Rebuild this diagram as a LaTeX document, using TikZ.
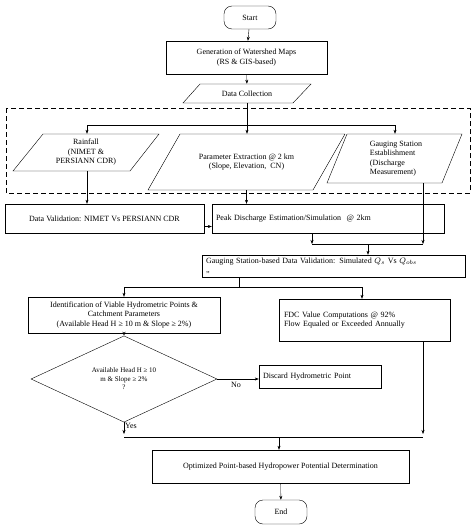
\documentclass[tikz,border=0pt]{standalone}
\usepackage{fontspec}
\setmainfont{Liberation Serif}
\usetikzlibrary{shapes.geometric}
\usetikzlibrary{arrows.meta}

\begin{document}
\begin{tikzpicture}[x=1pt,y=-1pt,font=\fontsize{8}{9.5}\selectfont,
  box/.style={draw, rectangle, inner sep=2pt, align=center},
  term/.style={draw, rectangle, rounded corners=8pt, inner sep=0pt},
  iobody/.style={rectangle, inner sep=0pt, align=center},
  decide/.style={draw, diamond, inner sep=0pt, align=center},
  arr/.style={-{Stealth[length=4pt,width=3pt]}}]
\useasboundingbox (0,0) rectangle (474,527);

\node [term, minimum width=52pt, minimum height=23pt] (start) at (250,17.5) {Start};
\node [box, minimum width=161pt, minimum height=33pt] (gen) at (246.5,57.5) {Generation of Watershed Maps\\(RS \& GIS-based)};
\node [iobody, minimum width=110pt, minimum height=19pt] (dc) at (247,93.5) {Data Collection};
\draw (183,103) -- (200,84) -- (311,84) -- (293,103) -- cycle;

\draw [dash pattern=on 5pt off 3pt, line width=0.6] (6,108) rectangle (470,193);

% input parallelograms
\node [iobody, minimum width=116pt, minimum height=37pt] (rain) at (86,152.5) {Rainfall\\(NIMET \&\\PERSIANN CDR)};
\draw (13,171) -- (43,134) -- (159,134) -- (130,171) -- cycle;
\node [iobody, minimum width=165pt, minimum height=56pt] (param) at (246.5,162) {Parameter Extraction @ 2 km\\(Slope, Elevation,\ \ CN)};
\draw (148,190) -- (180,134) -- (345,134) -- (313,190) -- cycle;
\node [iobody, minimum width=115pt, minimum height=49pt, align=left] (gauge) at (396,158.5) {Gauging Station\\Establishment\\(Discharge\\Measurement)};
\draw (327,183) -- (347,134) -- (462,134) -- (442,183) -- cycle;

\node [box, minimum width=199pt, minimum height=29pt] (dv) at (104.5,218.5) {Data Validation: NIMET Vs PERSIANN CDR};
\node [box, minimum width=232pt, minimum height=29pt, text width=224pt, align=left] (peak) at (328,218.5) {Peak Discharge Estimation/Simulation\ \ @ 2km};
\node [box, minimum width=263pt, minimum height=22pt, text width=255pt, align=left, inner sep=1pt] (gsv) at (333.5,266) {Gauging Station-based Data Validation: Simulated $Q_s$ Vs $Q_{obs}$\\,,};

\node [box, minimum width=192pt, minimum height=36pt] (ident) at (124,315) {Identification of Viable Hydrometric Points \&\\Catchment Parameters\\(Available Head H ≥ 10 m \& Slope ≥ 2\%)};
\node [box, minimum width=171pt, minimum height=42pt, text width=161pt, align=left] (fdc) at (364.5,320) {FDC Value Computations @ 92\%\\Flow Equaled or Exceeded Annually};
\node [decide, minimum width=186pt, minimum height=68pt, font=\fontsize{7}{8.5}\selectfont] (dia) at (124,379) {Available Head H ≥ 10\\m \& Slope ≥ 2\%\\?};
\node [box, minimum width=122pt, minimum height=23pt, text width=114pt, align=left] (disc) at (320,376.5) {Discard Hydrometric Point};

\node [box, minimum width=257pt, minimum height=33pt] (opt) at (280.5,466.5) {Optimized Point-based Hydropower Potential Determination};
\node [term, minimum width=52pt, minimum height=24pt] (end) at (281,512) {End};

\coordinate (b1) at (247,125);
\coordinate (j1) at (368,244);
\coordinate (b2) at (239,287);
\coordinate (j2) at (279,437);

\draw [arr] (start) -- (gen);
\draw [arr] (gen) -- (dc);
\draw (dc) -- (b1);
\draw (87,0 |- b1) -- (395,0 |- b1);
\draw [arr] (87,0 |- b1) -- (87,0 |- rain.north);
\draw [arr] (b1) -- (b1 |- param.north);
\draw [arr] (395,0 |- b1) -- (395,0 |- gauge.north);
\draw [arr] (87,0 |- rain.south) -- (87,0 |- dv.north);
\draw [arr] (param.south) -- (param.south |- peak.north);
\draw [arr] ([yshift=-8pt]dv.east) -- ([yshift=-8pt]peak.west);
\draw [arr] (312,0 |- peak.south) -- (312,244);
\draw [arr] (423,0 |- gauge.south) -- (423,244);
\draw (312,244) -- (423,244);
\draw [arr] (j1) -- (j1 |- gsv.north);

\draw (b2 |- gsv.south) -- (b2);
\draw (ident.north |- b2) -- (362,287);
\draw [arr] (ident.north |- b2) -- (ident.north);
\draw [arr] (362,287) -- (362,0 |- fdc.north);
\draw [arr] (ident) -- (dia);
\draw [arr] (dia.east) -- (dia.east -| disc.west) node [pos=0.45, below] {No};
\draw [arr] (dia.south) -- (124,434) node [pos=0.3, right, inner sep=1pt] {Yes};
\draw [arr] (423,0 |- fdc.south) -- (423,434);
\draw (124,437) -- (423,437);
\draw [arr] (j2) -- (j2 |- opt.north);
\draw [arr] (opt) -- (end);

\end{tikzpicture}
\end{document}
